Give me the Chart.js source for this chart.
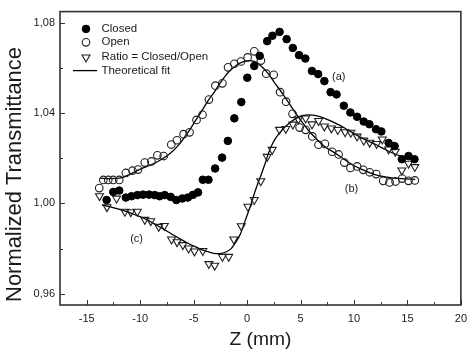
<!DOCTYPE html>
<html><head><meta charset="utf-8">
<script src="https://cdn.jsdelivr.net/npm/chart.js@4/dist/chart.umd.min.js"></script>
<style>html,body{margin:0;padding:0;background:#fff;}</style>
</head><body>
<canvas id="c" width="474" height="357"></canvas>
<script>
// ---- data (Z in mm, normalized transmittance) ----
const closedZ = [-13.14,-12.52,-11.96,-11.34,-10.81,-10.25,-9.73,-9.17,-8.64,-8.18,-7.71,-7.15,-6.62,-6.06,-5.54,-5.06,-4.59,-4.14,-3.61,-2.99,-2.34,-1.80,-1.19,-0.54,0.02,0.67,1.18,1.88,2.37,3.04,3.70,4.28,4.86,5.45,6.07,6.65,7.23,7.81,8.37,9.05,9.66,10.29,10.91,11.44,12.06,12.56,13.24,13.80,14.48,15.10,15.66];
const closedT = [1.0015,1.0051,1.0057,1.0026,1.0032,1.0037,1.0039,1.0039,1.0037,1.0032,1.0037,1.0029,1.0015,1.0022,1.0026,1.0038,1.0049,1.0105,1.0105,1.0155,1.0203,1.0277,1.0377,1.0449,1.0557,1.0609,1.0654,1.0719,1.0743,1.0760,1.0728,1.0689,1.0657,1.0642,1.0587,1.0573,1.0542,1.0493,1.0483,1.0433,1.0403,1.0384,1.0363,1.0351,1.0329,1.0319,1.0268,1.0254,1.0196,1.0210,1.0196];

const openZ = [-13.83,-13.45,-12.99,-12.52,-11.96,-11.34,-10.72,-10.20,-9.57,-8.95,-8.39,-7.80,-7.09,-6.56,-5.94,-5.38,-4.73,-4.17,-3.57,-2.96,-2.31,-1.78,-1.19,-0.57,0.05,0.67,1.29,1.79,2.49,3.09,3.65,4.25,4.91,5.48,6.10,6.68,7.28,7.96,8.56,9.10,9.67,10.29,10.87,11.47,12.08,12.73,13.33,13.89,14.50,15.10,15.69];
const openT = [1.0068,1.0104,1.0104,1.0104,1.0104,1.0135,1.0145,1.0150,1.0181,1.0186,1.0213,1.0210,1.0261,1.0280,1.0307,1.0315,1.0370,1.0393,1.0460,1.0522,1.0532,1.0603,1.0619,1.0629,1.0647,1.0674,1.0633,1.0575,1.0570,1.0493,1.0451,1.0397,1.0336,1.0326,1.0297,1.0260,1.0264,1.0229,1.0217,1.0181,1.0157,1.0164,1.0149,1.0138,1.0130,1.0100,1.0093,1.0097,1.0110,1.0100,1.0102];

const ratioZ = [-13.81,-13.11,-12.21,-11.43,-10.88,-10.27,-9.57,-9.01,-8.27,-7.74,-7.06,-6.55,-6.01,-5.47,-4.92,-4.14,-3.57,-3.03,-2.31,-1.72,-1.24,-0.54,0.08,0.67,1.28,1.88,2.35,3.03,3.62,4.28,4.80,5.48,6.07,6.69,7.23,7.89,8.49,9.17,9.70,10.29,10.91,11.47,12.12,12.65,13.24,13.86,14.48,15.10,15.69];
const ratioT = [1.0033,0.9984,1.0022,0.9964,0.9962,0.9964,0.9928,0.9922,0.9897,0.9901,0.9841,0.9829,0.9816,0.9801,0.9788,0.9790,0.9732,0.9725,0.9764,0.9764,0.9841,0.9900,0.9986,1.0016,1.0099,1.0207,1.0238,1.0327,1.0331,1.0350,1.0373,1.0377,1.0351,1.0366,1.0342,1.0333,1.0326,1.0316,1.0314,1.0297,1.0279,1.0270,1.0264,1.0284,1.0240,1.0230,1.0147,1.0177,1.0162];

const fitOpenZ = [-13.76,-12.83,-11.90,-10.97,-10.04,-9.11,-8.18,-7.24,-6.31,-5.85,-5.38,-4.92,-4.45,-3.99,-3.52,-3.05,-2.59,-2.12,-1.66,-1.19,-0.73,-0.26,0.21,0.67,1.14,1.88,2.53,3.46,4.67,5.95,7.19,8.40,9.98,11.38,12.31,13.71,14.80,15.73];
const fitOpenT = [1.0112,1.0110,1.0112,1.0129,1.0151,1.0168,1.0190,1.0220,1.0264,1.0294,1.0325,1.0360,1.0394,1.0429,1.0464,1.0494,1.0529,1.0560,1.0586,1.0605,1.0620,1.0629,1.0633,1.0629,1.0616,1.0581,1.0538,1.0477,1.0391,1.0312,1.0255,1.0218,1.0168,1.0138,1.0123,1.0112,1.0109,1.0107];

const fitRatioZ = [-13.58,-12.37,-11.25,-10.32,-9.39,-8.36,-7.24,-6.31,-5.66,-4.92,-4.17,-3.52,-2.96,-2.40,-1.94,-1.47,-1.10,-0.63,-0.17,0.30,0.76,1.23,1.69,2.16,2.63,3.28,3.93,4.58,5.23,5.79,6.54,7.37,8.31,9.24,10.17,11.10,12.03,12.96,13.89,14.54];
const fitRatioT = [0.9994,0.9979,0.9964,0.9947,0.9928,0.9901,0.9870,0.9844,0.9827,0.9810,0.9794,0.9784,0.9778,0.9779,0.9786,0.9801,0.9825,0.9864,0.9925,0.9986,1.0055,1.0116,1.0177,1.0242,1.0286,1.0325,1.0355,1.0377,1.0390,1.0392,1.0388,1.0375,1.0355,1.0331,1.0305,1.0281,1.0261,1.0238,1.0218,1.0207];

const xTicks = [-15,-10,-5,0,5,10,15,20];
const xMinor = [-12.5,-7.5,-2.5,2.5,7.5,12.5,17.5];
const yTicks = [0.96,1.00,1.04,1.08];
const yMinor = [0.98,1.02,1.06];

const legendLabels = ['Closed','Open','Ratio = Closed/Open','Theoretical fit'];
const noteText = ['(a)','(b)','(c)'];
const noteZ = [8.58,9.77,-10.34];
const noteT = [1.0561,1.0065,0.9841];

const xTitle = 'Z (mm)';
const yTitle = 'Normalized Transmittance';

// ---- build ----
const FONT = '"Liberation Sans", Arial, Helvetica, sans-serif';
const INK = '#1a1a1a';
const pts = (xs, ys) => xs.map((v, i) => ({x: v, y: ys[i]}));

const markerStyles = [
  {pointStyle:'circle', radius:3.8, rotation:0, backgroundColor:'#000', borderColor:'#000', borderWidth:1},
  {pointStyle:'circle', radius:3.8, rotation:0, backgroundColor:'rgba(255,255,255,0)', borderColor:'#1e1e1e', borderWidth:1.1},
  {pointStyle:'triangle', radius:4.6, rotation:180, backgroundColor:'rgba(255,255,255,0)', borderColor:'#1e1e1e', borderWidth:1.1}
];

function scatterSet(label, xs, ys, m) {
  return {label, data: pts(xs, ys), showLine:false,
    pointStyle:m.pointStyle, pointRadius:m.radius, pointRotation:m.rotation,
    pointBackgroundColor:m.backgroundColor, pointBorderColor:m.borderColor, pointBorderWidth:m.borderWidth,
    pointHoverRadius:m.radius};
}
function lineSet(label, xs, ys) {
  return {label, data: pts(xs, ys), showLine:true, borderColor:'#000', borderWidth:1.3,
    pointRadius:0, pointHoverRadius:0, tension:0.4, cubicInterpolationMode:'monotone', fill:false};
}

// font size so that a text spans a given width
function fitFont(ctx, text, target) {
  ctx.font = '20px ' + FONT;
  const w = ctx.measureText(text).width;
  return (20 * target / w).toFixed(2) + 'px ' + FONT;
}

const decor = {
  id:'decor',
  afterDraw(chart) {
    const {ctx, chartArea:a, scales:{x, y}} = chart;
    ctx.save();
    // ticks (inward)
    ctx.strokeStyle = '#333'; ctx.lineWidth = 1;
    const seg = (x1,y1,x2,y2) => {ctx.beginPath(); ctx.moveTo(x1,y1); ctx.lineTo(x2,y2); ctx.stroke();};
    xTicks.forEach(v => {const p = Math.round(x.getPixelForValue(v)) + 0.5; seg(p, a.bottom, p, a.bottom - 5);});
    xMinor.forEach(v => {const p = Math.round(x.getPixelForValue(v)) + 0.5; seg(p, a.bottom, p, a.bottom - 3);});
    yTicks.forEach(v => {const p = Math.round(y.getPixelForValue(v)) + 0.5; seg(a.left, p, a.left + 5, p);});
    yMinor.forEach(v => {const p = Math.round(y.getPixelForValue(v)) + 0.5; seg(a.left, p, a.left + 3, p);});
    // frame
    ctx.strokeStyle = '#333'; ctx.lineWidth = 1.6;
    ctx.strokeRect(a.left, a.top, a.right - a.left, a.bottom - a.top);
    // legend
    ctx.font = fitFont(ctx, legendLabels[2], 106.7);
    ctx.textBaseline = 'middle'; ctx.textAlign = 'left';
    const lx = a.left + 26, tx = a.left + 41.5;
    const rows = [a.top + 17.3, a.top + 30.7, a.top + 45.7, a.top + 59];
    markerStyles.forEach((m, i) => {
      ctx.fillStyle = m.backgroundColor; ctx.strokeStyle = m.borderColor; ctx.lineWidth = m.borderWidth;
      Chart.helpers.drawPoint(ctx, {pointStyle:m.pointStyle, radius:m.radius, rotation:m.rotation, borderWidth:m.borderWidth}, lx, rows[i]);
      ctx.fillStyle = INK; ctx.fillText(legendLabels[i], tx, rows[i]);
    });
    ctx.strokeStyle = '#000'; ctx.lineWidth = 1.3;
    seg(a.left + 13, rows[3], a.left + 37, rows[3]);
    ctx.fillStyle = INK;
    ctx.fillText(legendLabels[3], tx, rows[3]);
    // notes
    ctx.font = '11px ' + FONT; ctx.textAlign = 'center';
    noteText.forEach((t, i) => ctx.fillText(t, x.getPixelForValue(noteZ[i]), y.getPixelForValue(noteT[i])));
    // axis titles
    ctx.font = fitFont(ctx, xTitle, 62);
    ctx.textAlign = 'center'; ctx.textBaseline = 'middle';
    ctx.fillText(xTitle, (a.left + a.right) / 2, 340);
    ctx.font = fitFont(ctx, yTitle, 255);
    ctx.save();
    ctx.translate(15, 174.5); ctx.rotate(-Math.PI / 2);
    ctx.fillText(yTitle, 0, 0);
    ctx.restore();
    ctx.restore();
  }
};

new Chart(document.getElementById('c'), {
  type: 'scatter',
  data: { datasets: [
    scatterSet('Closed', closedZ, closedT, markerStyles[0]),
    scatterSet('Open', openZ, openT, markerStyles[1]),
    scatterSet('Ratio = Closed/Open', ratioZ, ratioT, markerStyles[2]),
    lineSet('Theoretical fit', fitOpenZ, fitOpenT),
    lineSet('Theoretical fit (ratio)', fitRatioZ, fitRatioT)
  ]},
  options: {
    responsive:false, animation:false, devicePixelRatio:1,
    layout:{padding:{left:0, top:6, right:11, bottom:0}},
    plugins:{legend:{display:false}, tooltip:{enabled:false}},
    scales:{
      x:{type:'linear', min:-17.5, max:20,
        afterBuildTicks: s => { s.ticks = xTicks.map(v => ({value:v})); },
        afterFit: s => { s.height = 52; },
        grid:{display:false, drawTicks:false}, border:{display:false},
        ticks:{padding:7, color:INK, font:{family:FONT, size:11}, maxRotation:0, autoSkip:false,
          callback: v => String(v)}},
      y:{type:'linear', min:0.955, max:1.085,
        afterBuildTicks: s => { s.ticks = yTicks.map(v => ({value:v})); },
        afterFit: s => { s.width = 60; },
        grid:{display:false, drawTicks:false}, border:{display:false},
        ticks:{padding:5, color:INK, font:{family:FONT, size:11}, autoSkip:false,
          callback: v => v.toFixed(2).replace('.', ',')}}
    }
  },
  plugins:[decor]
});
</script>
</body></html>
